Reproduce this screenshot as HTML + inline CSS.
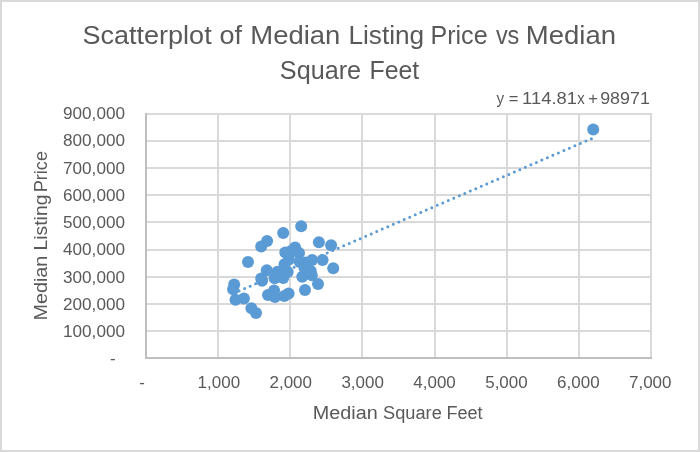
<!DOCTYPE html><html><head><meta charset="utf-8"><style>html,body{margin:0;padding:0;background:#fff;}svg{display:block;will-change:transform;}text{font-family:"Liberation Sans",sans-serif;fill:#595959;}</style></head><body>
<svg width="700" height="452" viewBox="0 0 700 452">
<rect x="0" y="0" width="700" height="452" fill="#d9d9d9"/>
<rect x="2" y="2" width="696" height="448" fill="#ffffff"/>
<path d="M146 331H652 M146 304H652 M146 277H652 M146 250H652 M146 222H652 M146 195H652 M146 168H652 M146 141H652 M146 114H652 M218 113V358 M290 113V358 M362 113V358 M435 113V358 M507 113V358 M579 113V358 M651 113V358" stroke="#d9d9d9" stroke-width="2" fill="none"/>
<path d="M146 113V359M145 358H652" stroke="#bfbfbf" stroke-width="2" fill="none"/>
<text x="115.7" y="364.2" font-size="16.8" text-anchor="end">-</text>
<text x="125" y="337.0" font-size="16.8" text-anchor="end" textLength="62" lengthAdjust="spacingAndGlyphs">100,000</text>
<text x="125" y="309.8" font-size="16.8" text-anchor="end" textLength="62" lengthAdjust="spacingAndGlyphs">200,000</text>
<text x="125" y="282.5" font-size="16.8" text-anchor="end" textLength="62" lengthAdjust="spacingAndGlyphs">300,000</text>
<text x="125" y="255.3" font-size="16.8" text-anchor="end" textLength="62" lengthAdjust="spacingAndGlyphs">400,000</text>
<text x="125" y="228.1" font-size="16.8" text-anchor="end" textLength="62" lengthAdjust="spacingAndGlyphs">500,000</text>
<text x="125" y="200.9" font-size="16.8" text-anchor="end" textLength="62" lengthAdjust="spacingAndGlyphs">600,000</text>
<text x="125" y="173.7" font-size="16.8" text-anchor="end" textLength="62" lengthAdjust="spacingAndGlyphs">700,000</text>
<text x="125" y="146.4" font-size="16.8" text-anchor="end" textLength="62" lengthAdjust="spacingAndGlyphs">800,000</text>
<text x="125" y="119.2" font-size="16.8" text-anchor="end" textLength="62" lengthAdjust="spacingAndGlyphs">900,000</text>
<text x="142" y="388" font-size="16.8" text-anchor="middle">-</text>
<text x="218.85" y="388" font-size="16.8" text-anchor="middle" textLength="42.5" lengthAdjust="spacingAndGlyphs">1,000</text>
<text x="290.75" y="388" font-size="16.8" text-anchor="middle" textLength="42.5" lengthAdjust="spacingAndGlyphs">2,000</text>
<text x="362.65" y="388" font-size="16.8" text-anchor="middle" textLength="42.5" lengthAdjust="spacingAndGlyphs">3,000</text>
<text x="434.55" y="388" font-size="16.8" text-anchor="middle" textLength="42.5" lengthAdjust="spacingAndGlyphs">4,000</text>
<text x="506.45" y="388" font-size="16.8" text-anchor="middle" textLength="42.5" lengthAdjust="spacingAndGlyphs">5,000</text>
<text x="578.35" y="388" font-size="16.8" text-anchor="middle" textLength="42.5" lengthAdjust="spacingAndGlyphs">6,000</text>
<text x="650.25" y="388" font-size="16.8" text-anchor="middle" textLength="42.5" lengthAdjust="spacingAndGlyphs">7,000</text>
<text x="82.59" y="44" font-size="25" textLength="129.07" lengthAdjust="spacingAndGlyphs">Scatterplot</text>
<text x="219.42" y="44" font-size="25" textLength="22.56" lengthAdjust="spacingAndGlyphs">of</text>
<text x="250.31" y="44" font-size="25" textLength="89.98" lengthAdjust="spacingAndGlyphs">Median</text>
<text x="348.4" y="44" font-size="25" textLength="75.82" lengthAdjust="spacingAndGlyphs">Listing</text>
<text x="430.5" y="44" font-size="25" textLength="57.1" lengthAdjust="spacingAndGlyphs">Price</text>
<text x="495.88" y="44" font-size="25" textLength="23.44" lengthAdjust="spacingAndGlyphs">vs</text>
<text x="525.8" y="44" font-size="25" textLength="90.19" lengthAdjust="spacingAndGlyphs">Median</text>
<text x="279.87" y="79" font-size="25" textLength="81.27" lengthAdjust="spacingAndGlyphs">Square</text>
<text x="369.52" y="79" font-size="25" textLength="49.64" lengthAdjust="spacingAndGlyphs">Feet</text>
<text x="312.85" y="419" font-size="18" textLength="64.94" lengthAdjust="spacingAndGlyphs">Median</text>
<text x="383.12" y="419" font-size="18" textLength="58.69" lengthAdjust="spacingAndGlyphs">Square</text>
<text x="446.49" y="419" font-size="18" textLength="36.16" lengthAdjust="spacingAndGlyphs">Feet</text>
<text transform="translate(47 320.55) rotate(-90)" x="0" y="0" font-size="18" textLength="64.94" lengthAdjust="spacingAndGlyphs">Median</text>
<text transform="translate(47 250.51) rotate(-90)" x="0" y="0" font-size="18" textLength="55.96" lengthAdjust="spacingAndGlyphs">Listing</text>
<text transform="translate(47 192.31) rotate(-90)" x="0" y="0" font-size="18" textLength="41.28" lengthAdjust="spacingAndGlyphs">Price</text>
<text x="496.39" y="104" font-size="16.8" textLength="7.63" lengthAdjust="spacingAndGlyphs">y</text>
<text x="508.64" y="104" font-size="16.8" textLength="9.66" lengthAdjust="spacingAndGlyphs">=</text>
<text x="522.13" y="104" font-size="16.8" textLength="54.79" lengthAdjust="spacingAndGlyphs">114.81</text>
<text x="577.28" y="104" font-size="16.8" textLength="7.46" lengthAdjust="spacingAndGlyphs">x</text>
<text x="588.14" y="104" font-size="16.8" textLength="9.66" lengthAdjust="spacingAndGlyphs">+</text>
<text x="600.2" y="104" font-size="16.8" textLength="49.65" lengthAdjust="spacingAndGlyphs">98971</text>
<path d="M233.60 293.37L593.20 137.92" stroke="#5b9bd5" stroke-width="3" stroke-dasharray="0 5.997" stroke-linecap="round" fill="none"/>
<circle cx="593.2" cy="129.5" r="6" fill="#5b9bd5"/>
<circle cx="301.2" cy="226.2" r="6" fill="#5b9bd5"/>
<circle cx="283.2" cy="233.1" r="6" fill="#5b9bd5"/>
<circle cx="267.1" cy="241.1" r="6" fill="#5b9bd5"/>
<circle cx="261.2" cy="246.4" r="6" fill="#5b9bd5"/>
<circle cx="248" cy="262.1" r="6" fill="#5b9bd5"/>
<circle cx="318.9" cy="242.2" r="6" fill="#5b9bd5"/>
<circle cx="331.1" cy="245.2" r="6" fill="#5b9bd5"/>
<circle cx="333.2" cy="268.3" r="6" fill="#5b9bd5"/>
<circle cx="322.6" cy="260" r="6" fill="#5b9bd5"/>
<circle cx="318" cy="284.1" r="6" fill="#5b9bd5"/>
<circle cx="305" cy="290" r="6" fill="#5b9bd5"/>
<circle cx="234.2" cy="284.4" r="6" fill="#5b9bd5"/>
<circle cx="233.1" cy="289.3" r="6" fill="#5b9bd5"/>
<circle cx="235.5" cy="299.8" r="6" fill="#5b9bd5"/>
<circle cx="243.9" cy="298.4" r="6" fill="#5b9bd5"/>
<circle cx="251.4" cy="308.3" r="6" fill="#5b9bd5"/>
<circle cx="256" cy="312.9" r="6" fill="#5b9bd5"/>
<circle cx="268" cy="295" r="6" fill="#5b9bd5"/>
<circle cx="274.1" cy="290.6" r="6" fill="#5b9bd5"/>
<circle cx="275" cy="296.9" r="6" fill="#5b9bd5"/>
<circle cx="284.3" cy="296" r="6" fill="#5b9bd5"/>
<circle cx="288.6" cy="293.5" r="6" fill="#5b9bd5"/>
<circle cx="266.8" cy="270.3" r="6" fill="#5b9bd5"/>
<circle cx="262.1" cy="280.8" r="6" fill="#5b9bd5"/>
<circle cx="261.2" cy="278.4" r="6" fill="#5b9bd5"/>
<circle cx="295.1" cy="247.4" r="6" fill="#5b9bd5"/>
<circle cx="285.3" cy="252.4" r="6" fill="#5b9bd5"/>
<circle cx="299" cy="252.9" r="6" fill="#5b9bd5"/>
<circle cx="312.1" cy="260" r="6" fill="#5b9bd5"/>
<circle cx="274.6" cy="278.3" r="6" fill="#5b9bd5"/>
<circle cx="283.2" cy="278" r="6" fill="#5b9bd5"/>
<circle cx="277.5" cy="271.8" r="6" fill="#5b9bd5"/>
<circle cx="284.5" cy="264.3" r="6" fill="#5b9bd5"/>
<circle cx="287.7" cy="272" r="6" fill="#5b9bd5"/>
<circle cx="299.8" cy="262" r="6" fill="#5b9bd5"/>
<circle cx="302.25" cy="276.75" r="6" fill="#5b9bd5"/>
<circle cx="311.75" cy="275.2" r="6" fill="#5b9bd5"/>
<circle cx="305.5" cy="262.5" r="6" fill="#5b9bd5"/>
<circle cx="310.75" cy="271" r="6" fill="#5b9bd5"/>
<circle cx="289" cy="259.5" r="6" fill="#5b9bd5"/>
<circle cx="304.5" cy="268" r="6" fill="#5b9bd5"/>
<circle cx="291" cy="251" r="6" fill="#5b9bd5"/>
</svg></body></html>
